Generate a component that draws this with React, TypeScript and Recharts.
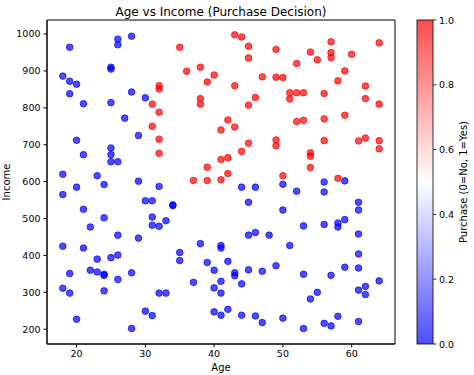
import React from 'react'
import { ScatterChart, Scatter, XAxis, YAxis, ReferenceArea } from 'recharts'

document.body.style.margin = '0'

// purchase = 1
const buyAges = [
  32, 32, 31, 32, 31, 32, 32, 35, 43, 44, 45, 45, 49, 36, 38, 40, 39, 43, 47, 49,
  50, 38, 38, 46, 45, 42, 41, 43, 57, 64, 54, 57, 57, 60, 55, 52, 59, 58, 62, 51,
  51, 52, 53, 56, 62, 64, 52, 53, 56, 59, 45, 44, 49, 49, 41, 42, 39, 42, 37, 39,
  41, 50, 56, 61, 62, 64, 64, 54, 54, 54, 58
]
const buyIncomes = [
  860, 851, 810, 788, 750, 715, 677, 964, 998, 992, 967, 935, 958, 899, 910, 889, 870, 860, 884, 883,
  882, 825, 810, 828, 807, 767, 740, 748, 979, 976, 951, 950, 936, 945, 930, 920, 900, 873, 859, 841,
  824, 841, 841, 839, 825, 810, 763, 766, 770, 780, 704, 682, 713, 697, 660, 665, 639, 622, 603, 603,
  605, 616, 711, 710, 718, 711, 689, 678, 669, 638, 609
]

// purchase = 0
const noAges = [
  19, 26, 26, 28, 25, 25, 18, 19, 20, 19, 21, 25, 28, 30, 27,
  20, 29, 25, 25, 21, 25, 26, 18, 23, 20, 24, 29, 32, 18, 30, 31, 21, 24, 22, 31, 31, 32, 33, 26,
  44, 46, 50, 34, 34, 45, 50, 45, 46, 48,
  59, 52, 56, 56, 61, 61, 53, 56, 58, 58, 59, 61,
  29, 18, 21, 23, 25, 26, 19, 22, 23, 24, 24, 26, 28, 18, 19, 24, 32, 33, 30, 31, 20, 28,
  38, 41, 41, 35, 35, 39, 42, 40, 43, 43, 45, 47, 49, 37, 41, 40, 41, 44, 40, 41, 42, 44, 46, 47, 50,
  53, 56, 57, 61, 64,
  51, 53, 54, 55, 57, 58, 59, 61, 61, 61, 62, 62
]
const noIncomes = [
  964, 986, 971, 994, 910, 905, 886, 872, 864, 838, 811, 814, 843, 827, 772,
  712, 725, 691, 673, 673, 654, 654, 620, 616, 585, 592, 601, 587, 565, 548, 548, 525, 502, 477, 504, 482, 479, 494, 455,
  585, 585, 593, 537, 535, 544, 523, 455, 462, 455,
  602, 574, 599, 572, 544, 523, 480, 484, 488, 477, 497, 458,
  447, 425, 420, 390, 394, 401, 351, 360, 355, 346, 349, 335, 353, 311, 298, 304, 298, 298, 249, 237, 227, 202,
  432, 427, 420, 408, 386, 381, 384, 360, 353, 345, 361, 357, 372, 327, 330, 312, 298, 323, 247, 238, 254, 238, 236, 218, 230,
  202, 216, 209, 221, 331,
  427, 349, 282, 300, 346, 235, 368, 404, 366, 306, 294, 316
]

const ageTicks = [20, 30, 40, 50, 60]
const incomeTicks = [200, 300, 400, 500, 600, 700, 800, 900, 1000]
const colorTicks = [0, 0.2, 0.4, 0.6, 0.8, 1.0]

const buyData = buyAges.map((a, i) => ({ age: a, income: buyIncomes[i] }))
const noData = noAges.map((a, i) => ({ age: a, income: noIncomes[i] }))

const FONT = '"DejaVu Sans", sans-serif'
const BLUE = '#0000ff'
const RED = '#ff0000'

const dot = (color: string) => (props: any) => (
  <circle
    cx={props.cx}
    cy={props.cy}
    r={3.3}
    fill={color}
    fillOpacity={0.7}
    stroke={color}
    strokeOpacity={0.7}
    strokeWidth={1}
  />
)

const tickStyle = { fill: '#000', fontSize: 9.5, fontFamily: FONT }

// colorbar geometry
const cbX = 417
const cbW = 16
const cbTop = 20
const cbBottom = 344

export default function App() {
  return (
    <div style={{ position: 'relative', width: 474, height: 375, background: '#fff' }}>
      <ScatterChart width={474} height={375} margin={{ top: 20, right: 79, bottom: 0, left: 0 }}>
        <XAxis
          type="number"
          dataKey="age"
          domain={[15.7, 66.3]}
          ticks={ageTicks}
          allowDataOverflow
          height={31}
          tickSize={3.5}
          tickMargin={3}
          tick={tickStyle}
          axisLine={{ stroke: '#000' }}
          tickLine={{ stroke: '#000' }}
        />
        <YAxis
          type="number"
          dataKey="income"
          domain={[160, 1038]}
          ticks={incomeTicks}
          allowDataOverflow
          width={47}
          tickSize={3.5}
          tickMargin={3}
          tick={tickStyle}
          axisLine={{ stroke: '#000' }}
          tickLine={{ stroke: '#000' }}
        />
        <Scatter data={noData} shape={dot(BLUE)} isAnimationActive={false} />
        <Scatter data={buyData} shape={dot(RED)} isAnimationActive={false} />
        <ReferenceArea x1={15.7} x2={66.3} y1={160} y2={1038} fill="none" stroke="#000" strokeWidth={1} />
      </ScatterChart>

      <svg
        width={474}
        height={375}
        style={{ position: 'absolute', left: 0, top: 0, pointerEvents: 'none' }}
      >
        <defs>
          <linearGradient id="bwr" x1="0" y1="0" x2="0" y2="1">
            <stop offset="0%" stopColor="#ff4d4d" />
            <stop offset="50%" stopColor="#ffffff" />
            <stop offset="100%" stopColor="#4d4dff" />
          </linearGradient>
        </defs>
        <text x={221} y={16} textAnchor="middle" fontFamily={FONT} fontSize={12} fill="#000">
          Age vs Income (Purchase Decision)
        </text>
        <text x={221} y={371} textAnchor="middle" fontFamily={FONT} fontSize={10} fill="#000">
          Age
        </text>
        <text
          x={0}
          y={0}
          transform="translate(10,182) rotate(-90)"
          textAnchor="middle"
          fontFamily={FONT}
          fontSize={10}
          fill="#000"
        >
          Income
        </text>

        <rect x={cbX} y={cbTop} width={cbW} height={cbBottom - cbTop} fill="url(#bwr)" stroke="#000" strokeWidth={0.8} />
        {colorTicks.map((t) => {
          const y = cbBottom - t * (cbBottom - cbTop)
          return (
            <g key={t}>
              <line x1={cbX + cbW} x2={cbX + cbW + 3.5} y1={y} y2={y} stroke="#000" strokeWidth={0.8} />
              <text x={cbX + cbW + 6} y={y + 3.5} fontFamily={FONT} fontSize={9.5} fill="#000">
                {t.toFixed(1)}
              </text>
            </g>
          )
        })}
        <text
          x={0}
          y={0}
          transform="translate(467,182) rotate(-90)"
          textAnchor="middle"
          fontFamily={FONT}
          fontSize={10}
          fill="#000"
        >
          Purchase (0=No, 1=Yes)
        </text>
      </svg>
    </div>
  )
}
